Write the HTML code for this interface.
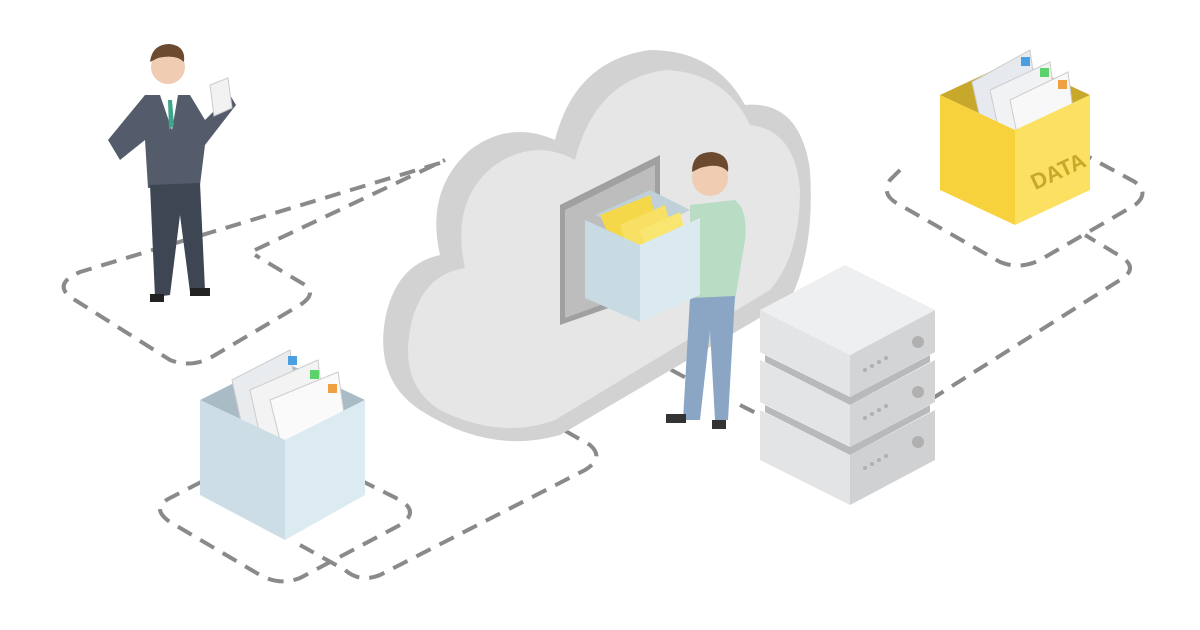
<!DOCTYPE html>
<html><head><meta charset="utf-8"><style>html,body{margin:0;padding:0;background:#fff}svg{display:block}</style></head>
<body>
<svg width="1200" height="630" viewBox="0 0 1200 630" xmlns="http://www.w3.org/2000/svg">
<g fill="none" stroke="#8a8a8a" stroke-width="4" stroke-dasharray="16 10" stroke-linecap="butt">
<path d="M440 163 L80 272 Q50 285 75 300 L170 360 Q190 368 210 358 L300 305 Q320 292 300 282 L255 255 M255 250 L445 160"/>
<path d="M520 405 L590 445 Q605 458 585 470 L380 575 Q360 583 345 570 L300 545 M360 480 L400 500 Q420 512 400 525 L300 578 Q280 586 260 575 L170 522 Q150 508 170 498 L205 480"/>
<path d="M625 345 L690 380 M740 405 L770 420"/>
<path d="M930 400 L1120 280 Q1140 268 1120 256 L1085 235 M900 170 L890 180 Q880 195 900 205 L1000 262 Q1020 270 1040 260 L1135 205 Q1150 193 1135 182 L1085 155"/>
</g>
<g>
<path d="M420 410 Q375 380 385 320 Q395 265 440 255 Q425 190 470 150 Q510 120 555 140 Q575 60 650 50 Q715 50 745 105 Q800 100 810 170 Q815 250 790 300 L560 435 Q490 455 420 410Z" fill="#d2d2d2"/>
<path d="M440 410 Q400 385 410 330 Q420 275 465 268 Q450 200 495 165 Q535 138 575 160 Q595 80 665 70 Q725 72 750 125 Q795 130 800 190 Q800 255 770 290 L555 420 Q500 440 440 410Z" fill="#e6e6e6"/>
</g>
<polygon points="560,205 660,155 660,290 560,325" fill="#a0a0a0"/>
<polygon points="565,210 655,165 655,285 565,318" fill="#bdbdbd"/>
<g>
<circle cx="168" cy="67" r="17" fill="#f0cdb2"/>
<path d="M150 62 Q152 44 170 44 Q186 46 184 62 Q176 54 158 58Z" fill="#6b4a2f"/>
<path d="M145 95 L190 95 L205 120 L230 95 L236 105 L205 145 L200 185 L148 188 L145 140 L120 160 L108 140Z" fill="#545b6a"/>
<polygon points="160,95 178,95 172,130" fill="#fff"/>
<polygon points="168,100 172,100 174,125 169,130" fill="#3aa68b"/>
<polygon points="150,185 200,183 205,290 190,292 180,215 170,295 155,297" fill="#3e4553"/>
<rect x="150" y="294" width="14" height="8" fill="#222"/><rect x="190" y="288" width="20" height="8" fill="#222"/>
<polygon points="210,85 228,78 232,108 214,116" fill="#f2f2f2" stroke="#ccc"/>
</g>
<g>
<polygon points="200,400 280,360 365,400 285,440" fill="#a9bcc5"/>
<polygon points="232,380 290,350 300,420 245,440" fill="#e8ecef" stroke="#ccc"/>
<polygon points="250,390 318,360 325,420 262,445" fill="#f3f3f3" stroke="#ccc"/>
<polygon points="270,400 338,372 345,420 282,448" fill="#fafafa" stroke="#ccc"/>
<rect x="288" y="356" width="9" height="9" fill="#4a9fe0"/><rect x="310" y="370" width="9" height="9" fill="#5cd36a"/><rect x="328" y="384" width="9" height="9" fill="#f0a040"/>
<polygon points="200,400 285,440 285,540 200,495" fill="#ccdde6"/>
<polygon points="285,440 365,400 365,495 285,540" fill="#dceaf2"/>
</g>
<g>
<circle cx="710" cy="178" r="18" fill="#f0cdb2"/>
<path d="M692 172 Q692 152 712 152 Q730 154 728 172 Q720 162 700 168Z" fill="#6b4a2f"/>
<path d="M690 205 L735 200 Q748 210 745 240 L735 300 L690 300Z" fill="#b9dcc4"/>
<polygon points="690,298 735,296 728,420 715,420 710,330 700,420 683,420" fill="#8aa6c4"/>
<rect x="666" y="414" width="20" height="9" fill="#333"/><rect x="712" y="420" width="14" height="9" fill="#333"/>
<polygon points="595,215 650,190 690,210 640,235" fill="#bfd0d8"/>
<polygon points="600,215 650,195 660,235 615,250" fill="#f5d84a"/>
<polygon points="620,225 665,205 675,240 630,255" fill="#f7e063"/>
<polygon points="640,230 680,212 688,245 650,258" fill="#f9e670"/>
<polygon points="585,220 640,245 640,322 585,298" fill="#c8dbe3"/>
<polygon points="640,245 700,218 700,295 640,322" fill="#dbe9f0"/>
</g>
<g>
<polygon points="940,95 1015,60 1090,95 1015,130" fill="#c8a82a"/>
<polygon points="972,82 1030,50 1040,120 985,140" fill="#e6eaee" stroke="#ccc"/>
<polygon points="990,90 1050,62 1058,125 1002,145" fill="#f0f2f4" stroke="#ccc"/>
<polygon points="1010,100 1068,72 1075,125 1020,148" fill="#f8f8f8" stroke="#ccc"/>
<rect x="1021" y="57" width="9" height="9" fill="#4a9fe0"/><rect x="1040" y="68" width="9" height="9" fill="#5cd36a"/><rect x="1058" y="80" width="9" height="9" fill="#f0a040"/>
<polygon points="940,95 1015,130 1015,225 940,190" fill="#f7d23c"/>
<polygon points="1015,130 1090,95 1090,190 1015,225" fill="#fbe062"/>
<text x="1028" y="182" font-family="Liberation Sans, sans-serif" font-weight="bold" font-size="22" fill="#c8a82a" transform="rotate(-25 1050 170)">DATA</text>
</g>
<g>
<polygon points="760,410 850,455 850,505 760,460" fill="#e3e4e6"/>
<polygon points="850,455 935,410 935,460 850,505" fill="#d0d1d3"/>
<polygon points="765,405 850,447 930,405 930,412 850,455 765,412" fill="#b8b9bb"/>
<polygon points="760,360 850,405 850,447 760,402" fill="#e3e4e6"/>
<polygon points="850,405 935,360 935,402 850,447" fill="#d3d4d6"/>
<polygon points="765,355 850,397 930,355 930,362 850,405 765,362" fill="#b8b9bb"/>
<polygon points="760,310 850,355 850,397 760,352" fill="#e3e4e6"/>
<polygon points="850,355 935,310 935,352 850,397" fill="#d3d4d6"/>
<polygon points="760,310 845,265 935,310 850,355" fill="#eeeff1"/>
<circle cx="918" cy="342" r="6" fill="#b0b0b0"/><circle cx="918" cy="392" r="6" fill="#b0b0b0"/><circle cx="918" cy="442" r="6" fill="#b0b0b0"/>
<g fill="#b0b0b0"><circle cx="865" cy="370" r="2"/><circle cx="872" cy="366" r="2"/><circle cx="879" cy="362" r="2"/><circle cx="886" cy="358" r="2"/>
<circle cx="865" cy="418" r="2"/><circle cx="872" cy="414" r="2"/><circle cx="879" cy="410" r="2"/><circle cx="886" cy="406" r="2"/>
<circle cx="865" cy="468" r="2"/><circle cx="872" cy="464" r="2"/><circle cx="879" cy="460" r="2"/><circle cx="886" cy="456" r="2"/></g>
</g>
</svg>
</body></html>
